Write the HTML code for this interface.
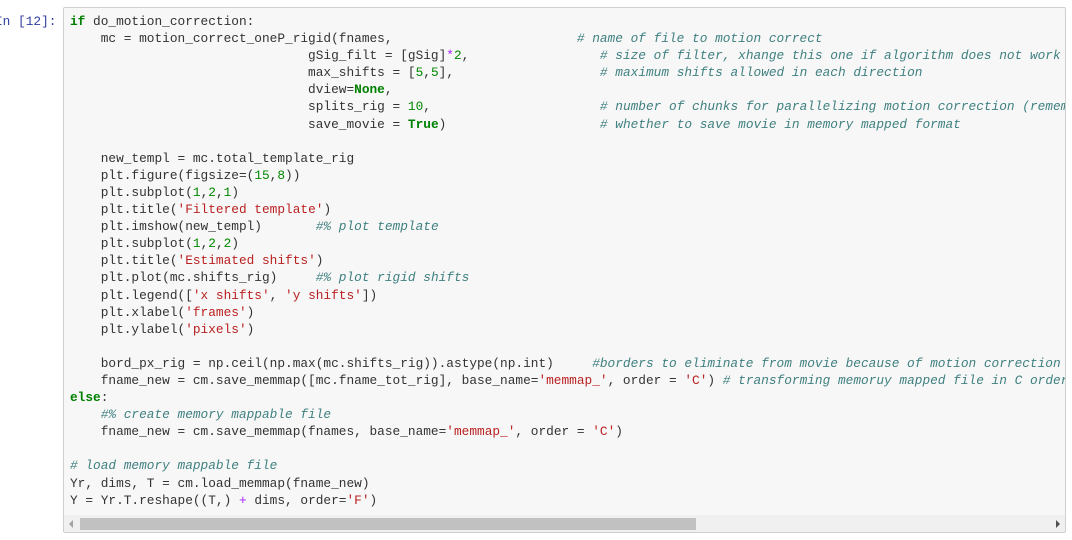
<!DOCTYPE html>
<html><head><meta charset="utf-8"><style>
body{margin:0;width:1072px;height:540px;background:#fff;overflow:hidden;position:relative;font-family:"Liberation Mono",monospace;}
.prompt{position:absolute;left:-5px;top:13px;font-size:12.8px;color:#303F9F;line-height:17.1px;}
.cell{position:absolute;left:63px;top:7px;width:1001px;height:524px;background:#f7f7f7;border:1px solid #cfcfcf;border-radius:2px;overflow:hidden;}
pre{margin:0;position:absolute;left:6px;top:5px;font-family:"Liberation Mono",monospace;font-size:12.8px;line-height:17.1px;color:#333;white-space:pre;}
.k{color:#008000;font-weight:bold}
.s{color:#BA2121}
.n{color:#080}
.c{color:#408080;font-style:italic}
.o{color:#AA22FF}
.sb{position:absolute;left:0;top:507px;width:1001px;height:17px;background:#f0f0f0;}
.th{position:absolute;left:16px;top:3px;width:616px;height:12px;background:#c1c1c1;}
.al{position:absolute;left:5px;top:5px;width:0;height:0;border-top:4px solid transparent;border-bottom:4px solid transparent;border-right:4px solid #a3a3a3;}
.ar{position:absolute;right:5px;top:5px;width:0;height:0;border-top:4px solid transparent;border-bottom:4px solid transparent;border-left:4px solid #505050;}
</style></head><body>
<div class="prompt">In [12]:</div>
<div class="cell">
<pre><span class="k">if</span> do_motion_correction:
    mc = motion_correct_oneP_rigid(fnames,                        <span class="c"># name of file to motion correct</span>
                               gSig_filt = [gSig]<span class="o">*</span><span class="n">2</span>,                 <span class="c"># size of filter, xhange this one if algorithm does not work</span>
                               max_shifts = [<span class="n">5</span>,<span class="n">5</span>],                   <span class="c"># maximum shifts allowed in each direction</span>
                               dview=<span class="k">None</span>,
                               splits_rig = <span class="n">10</span>,                      <span class="c"># number of chunks for parallelizing motion correction (remember</span>
                               save_movie = <span class="k">True</span>)                    <span class="c"># whether to save movie in memory mapped format</span>

    new_templ = mc.total_template_rig
    plt.figure(figsize=(<span class="n">15</span>,<span class="n">8</span>))
    plt.subplot(<span class="n">1</span>,<span class="n">2</span>,<span class="n">1</span>)
    plt.title(<span class="s">'Filtered template'</span>)
    plt.imshow(new_templ)       <span class="c">#% plot template</span>
    plt.subplot(<span class="n">1</span>,<span class="n">2</span>,<span class="n">2</span>)
    plt.title(<span class="s">'Estimated shifts'</span>)
    plt.plot(mc.shifts_rig)     <span class="c">#% plot rigid shifts</span>
    plt.legend([<span class="s">'x shifts'</span>, <span class="s">'y shifts'</span>])
    plt.xlabel(<span class="s">'frames'</span>)
    plt.ylabel(<span class="s">'pixels'</span>)

    bord_px_rig = np.ceil(np.max(mc.shifts_rig)).astype(np.int)     <span class="c">#borders to eliminate from movie because of motion correction</span>
    fname_new = cm.save_memmap([mc.fname_tot_rig], base_name=<span class="s">'memmap_'</span>, order = <span class="s">'C'</span>) <span class="c"># transforming memoruy mapped file in C order</span>
<span class="k">else</span>:
    <span class="c">#% create memory mappable file</span>
    fname_new = cm.save_memmap(fnames, base_name=<span class="s">'memmap_'</span>, order = <span class="s">'C'</span>)

<span class="c"># load memory mappable file</span>
Yr, dims, T = cm.load_memmap(fname_new)
Y = Yr.T.reshape((T,) <span class="o">+</span> dims, order=<span class="s">'F'</span>)</pre>
<div class="sb"><div class="al"></div><div class="th"></div><div class="ar"></div></div>
</div>
</body></html>
